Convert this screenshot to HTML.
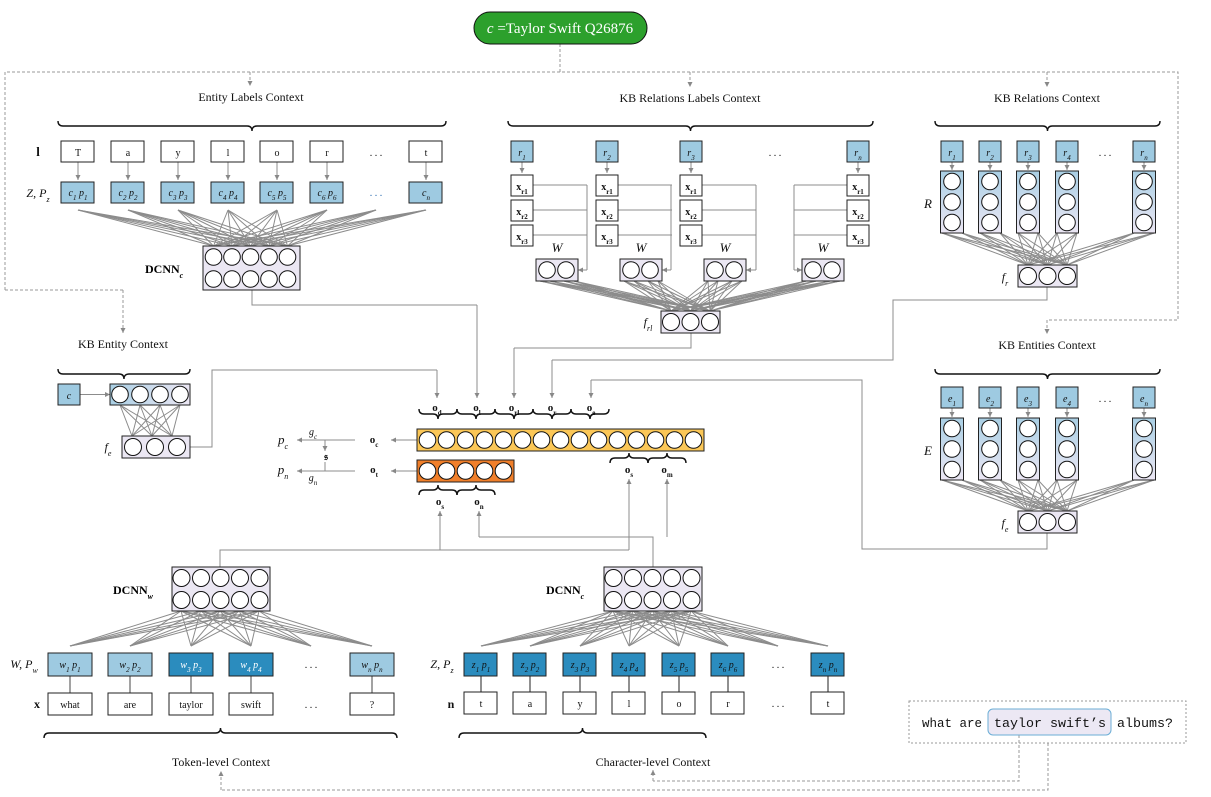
<!DOCTYPE html>
<html><head><meta charset="utf-8"><style>
html,body{margin:0;padding:0;background:#fff}
svg{display:block;font-family:"Liberation Serif",serif}
.t{font-size:12px;text-anchor:middle;fill:#111}
.b{font-size:10px;text-anchor:middle;fill:#111}
.i{font-style:italic}
.bo{font-weight:bold}
.m{font-family:"Liberation Mono",monospace;font-size:12.5px;fill:#111}
</style></head><body>
<svg id="s" width="1211" height="797" viewBox="0 0 1211 797" xmlns="http://www.w3.org/2000/svg">
<defs>
<marker id="a" markerWidth="6" markerHeight="6" refX="5" refY="3" orient="auto" markerUnits="userSpaceOnUse"><path d="M0,0.5 L5,3 L0,5.5 z" fill="#888"/></marker>
<linearGradient id="g" x1="0" y1="0" x2="0" y2="1"><stop offset="0" stop-color="#a9cfe4"/><stop offset="1" stop-color="#ece7f4"/></linearGradient>
<linearGradient id="gh" x1="0" y1="0" x2="1" y2="0"><stop offset="0" stop-color="#a9cfe4"/><stop offset="1" stop-color="#ece7f4"/></linearGradient>
</defs>
<g id="L"></g>
<g id="S"></g>

<rect x="474" y="12" width="173" height="32" rx="16" fill="#2ca02c" stroke="#111" stroke-width="1"/>
<text x="560" y="33" style="font-size:15px;fill:#fff;text-anchor:middle"><tspan class="i">c</tspan> =Taylor Swift Q26876</text>

<text class="t" x="251" y="101">Entity Labels Context</text>
<text class="t" x="690" y="102">KB Relations Labels Context</text>
<text class="t" x="1047" y="102">KB Relations Context</text>
<text class="t" x="123" y="348">KB Entity Context</text>
<text class="t" x="1047" y="349">KB Entities Context</text>
<text class="t" x="221" y="766">Token-level Context</text>
<text class="t" x="653" y="766">Character-level Context</text>

<text class="t bo" x="38" y="156" style="font-size:13px">l</text>
<text class="t i" x="38" y="197">Z, P<tspan font-size="8" baseline-shift="sub">z</tspan></text>
<text class="b" x="78" y="156">T</text><text class="b" x="128" y="156">a</text><text class="b" x="178" y="156">y</text><text class="b" x="228" y="156">l</text><text class="b" x="277" y="156">o</text><text class="b" x="327" y="156">r</text><text class="b" x="376" y="156">. . .</text><text class="b" x="426" y="156">t</text>
<g class="b i">
<text x="78" y="196">c<tspan font-size="7" baseline-shift="sub">1</tspan> p<tspan font-size="7" baseline-shift="sub">1</tspan></text>
<text x="128" y="196">c<tspan font-size="7" baseline-shift="sub">2</tspan> p<tspan font-size="7" baseline-shift="sub">2</tspan></text>
<text x="178" y="196">c<tspan font-size="7" baseline-shift="sub">3</tspan> p<tspan font-size="7" baseline-shift="sub">3</tspan></text>
<text x="228" y="196">c<tspan font-size="7" baseline-shift="sub">4</tspan> p<tspan font-size="7" baseline-shift="sub">4</tspan></text>
<text x="277" y="196">c<tspan font-size="7" baseline-shift="sub">5</tspan> p<tspan font-size="7" baseline-shift="sub">5</tspan></text>
<text x="327" y="196">c<tspan font-size="7" baseline-shift="sub">6</tspan> p<tspan font-size="7" baseline-shift="sub">6</tspan></text>
<text x="426" y="196">c<tspan font-size="7" baseline-shift="sub">n</tspan></text>
</g>
<text class="b" x="376" y="196" style="fill:#2b6cb0">. . .</text>
<text x="145" y="273" style="font-size:12px;font-weight:bold">DCNN<tspan font-size="8" class="i" baseline-shift="sub">c</tspan></text>

<g class="b i">
<text x="522" y="156">r<tspan font-size="7" baseline-shift="sub">1</tspan></text>
<text x="607" y="156">r<tspan font-size="7" baseline-shift="sub">2</tspan></text>
<text x="691" y="156">r<tspan font-size="7" baseline-shift="sub">3</tspan></text>
<text x="858" y="156">r<tspan font-size="7" baseline-shift="sub">n</tspan></text>
</g>
<text class="b" x="775" y="156">. . .</text>
<g id="XR" class="b bo"></g>
<g class="t i" style="font-size:13px">
<text x="557" y="252">W</text><text x="641" y="252">W</text><text x="725" y="252">W</text><text x="823" y="252">W</text>
</g>
<text class="t i" x="648" y="326">f<tspan font-size="8" baseline-shift="sub">rl</tspan></text>

<g class="b i">
<text x="952" y="156">r<tspan font-size="7" baseline-shift="sub">1</tspan></text>
<text x="990" y="156">r<tspan font-size="7" baseline-shift="sub">2</tspan></text>
<text x="1028" y="156">r<tspan font-size="7" baseline-shift="sub">3</tspan></text>
<text x="1067" y="156">r<tspan font-size="7" baseline-shift="sub">4</tspan></text>
<text x="1144" y="156">r<tspan font-size="7" baseline-shift="sub">n</tspan></text>
<text x="952" y="402">e<tspan font-size="7" baseline-shift="sub">1</tspan></text>
<text x="990" y="402">e<tspan font-size="7" baseline-shift="sub">2</tspan></text>
<text x="1028" y="402">e<tspan font-size="7" baseline-shift="sub">3</tspan></text>
<text x="1067" y="402">e<tspan font-size="7" baseline-shift="sub">4</tspan></text>
<text x="1144" y="402">e<tspan font-size="7" baseline-shift="sub">n</tspan></text>
</g>
<text class="b" x="1105" y="156">. . .</text>
<text class="b" x="1105" y="402">. . .</text>
<text class="t i" x="928" y="208" style="font-size:13px">R</text>
<text class="t i" x="928" y="455" style="font-size:13px">E</text>
<text class="t i" x="1005" y="281">f<tspan font-size="8" baseline-shift="sub">r</tspan></text>
<text class="t i" x="1005" y="527">f<tspan font-size="8" baseline-shift="sub">e</tspan></text>

<text class="b i" x="69" y="399">c</text>
<text class="t i" x="108" y="451">f<tspan font-size="8" baseline-shift="sub">e</tspan></text>

<g class="t bo" style="font-size:11px">
<text x="437" y="411">o<tspan font-size="7" baseline-shift="sub">d</tspan></text>
<text x="477" y="411">o<tspan font-size="7" baseline-shift="sub">l</tspan></text>
<text x="514" y="411">o<tspan font-size="7" baseline-shift="sub">rl</tspan></text>
<text x="552" y="411">o<tspan font-size="7" baseline-shift="sub">r</tspan></text>
<text x="591" y="411">o<tspan font-size="7" baseline-shift="sub">e</tspan></text>
<text x="629" y="473">o<tspan font-size="7" baseline-shift="sub">s</tspan></text>
<text x="667" y="473">o<tspan font-size="7" baseline-shift="sub">m</tspan></text>
<text x="440" y="505">o<tspan font-size="7" baseline-shift="sub">s</tspan></text>
<text x="479" y="505">o<tspan font-size="7" baseline-shift="sub">n</tspan></text>
<text x="374" y="443">o<tspan font-size="7" baseline-shift="sub">c</tspan></text>
<text x="374" y="473">o<tspan font-size="7" baseline-shift="sub">t</tspan></text>
</g>
<text class="t i" x="283" y="444" style="font-size:13px">p<tspan font-size="8" baseline-shift="sub">c</tspan></text>
<text class="t i" x="283" y="474" style="font-size:13px">p<tspan font-size="8" baseline-shift="sub">n</tspan></text>
<text class="b i" x="313" y="435">g<tspan font-size="7" baseline-shift="sub">c</tspan></text>
<text class="b i" x="313" y="481">g<tspan font-size="7" baseline-shift="sub">n</tspan></text>
<text class="b bo" x="326" y="460">𝔰</text>

<text x="113" y="594" style="font-size:12px;font-weight:bold">DCNN<tspan font-size="8" class="i" baseline-shift="sub">w</tspan></text>
<text x="546" y="594" style="font-size:12px;font-weight:bold">DCNN<tspan font-size="8" class="i" baseline-shift="sub">c</tspan></text>
<text class="t i" x="24" y="668">W, P<tspan font-size="8" baseline-shift="sub">w</tspan></text>
<text class="t bo" x="37" y="708">x</text>
<text class="t i" x="442" y="668">Z, P<tspan font-size="8" baseline-shift="sub">z</tspan></text>
<text class="t bo" x="451" y="708">n</text>
<g class="b i">
<text x="70" y="668">w<tspan font-size="7" baseline-shift="sub">1</tspan> p<tspan font-size="7" baseline-shift="sub">1</tspan></text>
<text x="130" y="668">w<tspan font-size="7" baseline-shift="sub">2</tspan> p<tspan font-size="7" baseline-shift="sub">2</tspan></text>
<text x="191" y="668" fill="#fff">w<tspan font-size="7" baseline-shift="sub">3</tspan> p<tspan font-size="7" baseline-shift="sub">3</tspan></text>
<text x="251" y="668" fill="#fff">w<tspan font-size="7" baseline-shift="sub">4</tspan> p<tspan font-size="7" baseline-shift="sub">4</tspan></text>
<text x="372" y="668">w<tspan font-size="7" baseline-shift="sub">n</tspan> p<tspan font-size="7" baseline-shift="sub">n</tspan></text>
</g>
<text class="b" x="311" y="668">. . .</text>
<g class="b">
<text x="70" y="708">what</text><text x="130" y="708">are</text><text x="191" y="708">taylor</text><text x="251" y="708">swift</text><text x="311" y="708">. . .</text><text x="372" y="708">?</text>
</g>
<g class="b i" fill="#fff">
<text x="481" y="668">z<tspan font-size="7" baseline-shift="sub">1</tspan> p<tspan font-size="7" baseline-shift="sub">1</tspan></text>
<text x="530" y="668">z<tspan font-size="7" baseline-shift="sub">2</tspan> p<tspan font-size="7" baseline-shift="sub">2</tspan></text>
<text x="580" y="668">z<tspan font-size="7" baseline-shift="sub">3</tspan> p<tspan font-size="7" baseline-shift="sub">3</tspan></text>
<text x="629" y="668">z<tspan font-size="7" baseline-shift="sub">4</tspan> p<tspan font-size="7" baseline-shift="sub">4</tspan></text>
<text x="679" y="668">z<tspan font-size="7" baseline-shift="sub">5</tspan> p<tspan font-size="7" baseline-shift="sub">5</tspan></text>
<text x="728" y="668">z<tspan font-size="7" baseline-shift="sub">6</tspan> p<tspan font-size="7" baseline-shift="sub">6</tspan></text>
<text x="828" y="668">z<tspan font-size="7" baseline-shift="sub">n</tspan> p<tspan font-size="7" baseline-shift="sub">n</tspan></text>
</g>
<text class="b" x="778" y="668">. . .</text>
<g class="b">
<text x="481" y="707">t</text><text x="530" y="707">a</text><text x="580" y="707">y</text><text x="629" y="707">l</text><text x="679" y="707">o</text><text x="728" y="707">r</text><text x="778" y="707">. . .</text><text x="828" y="707">t</text>
</g>

<rect x="909" y="701" width="277" height="42" fill="none" stroke="#999" stroke-dasharray="2,2"/>
<rect x="988" y="709" width="123" height="26" rx="5" fill="#ece8f4" stroke="#6baed6"/>
<text class="m" x="922" y="727" textLength="60" lengthAdjust="spacingAndGlyphs">what are</text>
<text class="m" x="994" y="727" textLength="112" lengthAdjust="spacingAndGlyphs">taylor swift’s</text>
<text class="m" x="1117" y="727" textLength="56" lengthAdjust="spacingAndGlyphs">albums?</text>
</svg>
<script>
const NS="http://www.w3.org/2000/svg";
const L=document.getElementById('L'),S=document.getElementById('S');
function el(p,t,a){const e=document.createElementNS(NS,t);for(const k in a)e.setAttribute(k,a[k]);p.appendChild(e);return e;}
function ln(x1,y1,x2,y2,o={}){return el(L,'line',Object.assign({x1,y1,x2,y2,stroke:'#8c8c8c','stroke-width':1},o));}
function pl(pts,o={}){return el(L,'polyline',Object.assign({points:pts,fill:'none',stroke:'#8c8c8c','stroke-width':1},o));}
const AR={'marker-end':'url(#a)'};
const DS={'stroke-dasharray':'3,2',stroke:'#999'};
function box(x,y,w,h,f){return el(S,'rect',{x,y,width:w,height:h,fill:f,stroke:'#222','stroke-width':1});}
function circ(cx,cy,r){el(S,'circle',{cx,cy,r,fill:'#fff',stroke:'#111','stroke-width':1});}
function crow(x,y,n,sp,r){for(let i=0;i<n;i++)circ(x+i*sp,y,r);}
const LB='#9ecae1',DB='#2b8cbe',LV='#ebe7f3';
function brace(x1,x2,y,up){const m=(x1+x2)/2,d=up?-1:1,h=5;
 el(L,'path',{d:`M${x1},${y+d*h} Q${x1},${y} ${x1+h},${y} L${m-h},${y} Q${m},${y} ${m},${y-d*h} Q${m},${y} ${m+h},${y} L${x2-h},${y} Q${x2},${y} ${x2},${y+d*h}`,fill:'none',stroke:'#111','stroke-width':1.4});}

pl('560,44 560,72',DS);
pl('5,290 5,72 1178,72 1178,320 1047,320',DS);
pl('5,290 123,290',DS);
ln(123,290,123,333,Object.assign({},DS,AR));
ln(1047,320,1047,334,Object.assign({},DS,AR));
ln(250,72,250,86,Object.assign({},DS,AR));
ln(690,72,690,87,Object.assign({},DS,AR));
ln(1047,72,1047,87,Object.assign({},DS,AR));
pl('1019,735 1019,781 653,781',DS);ln(653,781,653,770,Object.assign({},DS,AR));
pl('1048,743 1048,790 221,790',DS);ln(221,790,221,771,Object.assign({},DS,AR));

brace(58,446,126,true);brace(508,873,126,true);brace(935,1160,126,true);
brace(58,190,374,true);brace(935,1160,374,true);
brace(44,397,733,false);brace(459,706,733,false);

const ex=[78,128,178,228,277,327,426];
ex.forEach(x=>{box(x-17,141,33,21,'#fff');ln(x,162,x,180,AR);box(x-17,182,33,21,LB);});
[78,128,178,228,277,327,376,426].forEach(x=>{for(let i=0;i<5;i++)ln(x,210,213.5+18.5*i,246);});
box(203,246,97,44,LV);crow(213.5,257,5,18.5,8.3);crow(213.5,279,5,18.5,8.3);

const rl=[522,607,691,858];
const XR=document.getElementById('XR');
rl.forEach((x,k)=>{box(x-11,141,22,21,LB);ln(x,162,x,173,AR);
 [175,200,225].forEach((y,j)=>{box(x-11,y,22,21,'#fff');
  const t=el(XR,'text',{x:x,y:y+15});t.textContent='x';const s=el(t,'tspan',{'font-size':7,'baseline-shift':'sub'});s.textContent='r'+(j+1);
  if(k<3)ln(x+11,y+10,x+65,y+10);else ln(x-11,y+10,x-64,y+10);});
});
[[536,587,1],[620,671,1],[704,756,1],[802,794,0]].forEach(([bx,vx,r])=>{
 if(r){pl(`${vx},185 ${vx},270`);ln(vx,270,bx+42,270,AR);}else{pl(`${vx},185 ${vx},270`);ln(vx,270,bx,270,AR);}
 box(bx,259,42,22,LV);crow(bx+11,270,2,19,8.3);
 for(const sx of [bx+4,bx+14,bx+28,bx+38])for(let i=0;i<3;i++)ln(sx,281,671+19.5*i,311);
});
box(661,311,59,22,LV);crow(671,322,3,19.5,8.5);

function cols(ty,cy,fy){[952,990,1028,1067,1144].forEach(x=>{box(x-11,ty,22,21,LB);ln(x,ty+21,x,cy-1,AR);
 box(x-11.5,cy,23,62,'url(#g)');circ(x,cy+10.5,8.3);circ(x,cy+31,8.3);circ(x,cy+51.5,8.3);
 for(const sx of [x-10,x+10])for(let i=0;i<3;i++)ln(sx,cy+62,1028+19.5*i,fy);});
 box(1018,fy,59,22,LV);crow(1028,fy+11,3,19.5,8.5);}
cols(141,171,265);cols(387,418,511);

box(58,384,22,21,LB);ln(80,394.5,110,394.5,AR);
box(110,384,80,21,'url(#gh)');crow(120,394.5,4,20,8.3);
for(let j=0;j<4;j++)for(let i=0;i<3;i++)ln(120+20*j,405,132+20*i,436);
box(122,436,68,22,LV);crow(133,447,3,22,8.5);

pl('190,447 212,447 212,370 437,370');ln(437,370,437,398,AR);
pl('252,290 252,305 477,305');ln(477,305,477,398,AR);
pl('691,333 691,348 514,348');ln(514,348,514,398,AR);
pl('1047,287 1047,300 893,300 893,360 552,360');ln(552,360,552,398,AR);
pl('1047,533 1047,549 862,549 862,380 591,380');ln(591,380,591,398,AR);
for(let k=0;k<5;k++)brace(419+k*38,457+k*38,414,true);
brace(610,648,458,false);brace(648,686,458,false);
brace(419,457,490,false);brace(457,495,490,false);
box(417,429,287,22,'#fbc757');crow(427.5,440,15,19,8.3);
box(417,460,97,22,'#f07f2a');crow(427.5,471,5,19,8.3);
ln(417,440,391,440,AR);ln(417,471,391,471,AR);
ln(355,440,297,440,AR);ln(355,471,297,471,AR);
ln(325,440,325,451,AR);ln(325,462,325,471);
pl('220,567 220,550 629,550');ln(629,550,629,479,AR);ln(440,550,440,511,AR);
pl('653,567 653,537 479,537');ln(479,537,479,511,AR);ln(667,537,667,479,AR);

const tx=[70,130,191,251,372];
tx.forEach((x,k)=>{ln(x,676,x,693,{stroke:'#444'});box(x-22,653,44,23,(k==2||k==3)?DB:LB);box(x-22,693,44,22,'#fff');});
[70,130,191,251,311,372].forEach(x=>{for(let i=0;i<5;i++)ln(x,646,181+19.5*i,611);});
box(172,567,98,44,LV);crow(181.5,578,5,19.5,8.5);crow(181.5,600,5,19.5,8.5);
const cx=[481,530,580,629,679,728,828];
cx.forEach(x=>{ln(x,676,x,692,{stroke:'#222'});box(x-17,653,33,23,DB);box(x-17,692,33,22,'#fff');});
[481,530,580,629,679,728,778,828].forEach(x=>{for(let i=0;i<5;i++)ln(x,646,613+19.5*i,611);});
box(604,567,98,44,LV);crow(613.5,578,5,19.5,8.5);crow(613.5,600,5,19.5,8.5);
</script>
</body></html>
